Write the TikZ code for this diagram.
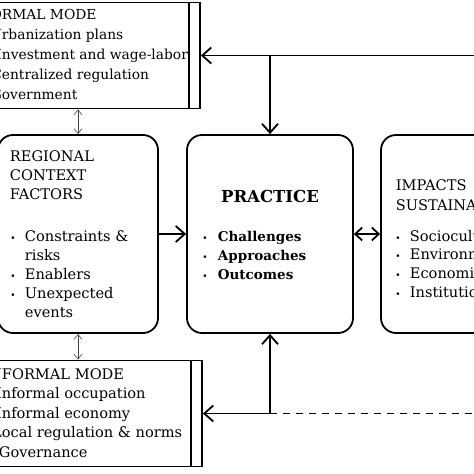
\documentclass[tikz,border=0pt]{standalone}
\usepackage{fontspec}
\setmainfont{DejaVu Serif}
\usetikzlibrary{arrows.meta}

\begin{document}
\begin{tikzpicture}[x=1pt, y=-1pt, line width=1.8pt,
        font=\fontsize{13.8}{16}\selectfont,
        modebox/.style={rectangle, draw, minimum width=#1, minimum height=106pt, inner sep=0pt},
        roundbox/.style={rectangle, draw, rounded corners=15pt, minimum width=#1, minimum height=198pt, inner sep=0pt},
        txt/.style={anchor=base west, inner sep=0pt},
        boxtxt/.style={txt, font=\fontsize{14.6}{16}\selectfont},
        dot/.style={anchor=base, inner sep=0pt, font=\fontsize{9}{9}\selectfont},
        arr/.style={-{Straight Barb[length=9pt,width=16pt]}},
        twoway/.style={{Straight Barb[length=7pt,width=13pt]}-{Straight Barb[length=7pt,width=13pt]}},
        thinway/.style={line width=0.6pt, draw=black!75, {Straight Barb[length=5pt,width=8pt]}-{Straight Barb[length=5pt,width=8pt]}}
    ]
        \useasboundingbox (0,0) rectangle (474,474);
        \clip (0,0) rectangle (474,474);
        \node[modebox=262pt] (formal) at (69,55.5) {};
        \node[modebox=264pt] (informal) at (70,413.5) {};
        \draw ([xshift=-12pt]formal.north east) -- ([xshift=-12pt]formal.south east);
        \draw ([xshift=-12pt]informal.north east) -- ([xshift=-12pt]informal.south east);
        \node[roundbox=160pt] (regional) at (78,234) {};
        \node[roundbox=166pt] (practice) at (270,234) {};
        \node[roundbox=166pt] (impacts) at (464,234) {};

        \foreach \t [count=\i] in {\llap{FO}RMAL MODE, \llap{U}rbanization plans, \llap{I}nvestment and wage-labor, \llap{C}entralized regulation, \llap{G}overnment}
            \node[txt] (fm\i) at (1,{19+20*(\i-1)}) {\t};
        \foreach \t [count=\i] in {\llap{IN}FORMAL MODE, \llap{I}nformal occupation, \llap{I}nformal economy, \llap{L}ocal regulation \& norms, \hspace{-3pt}Governance}
            \node[boxtxt] (im\i) at (1,{379+19.5*(\i-1)}) {\t};

        \foreach \t [count=\i] in {REGIONAL, CONTEXT, FACTORS}
            \node[boxtxt] (rt\i) at (9,{161+19*(\i-1)}) {\t};
        \foreach \t [count=\i] in {Constraints \&, risks, Enablers, Unexpected, events}
            \node[boxtxt] (rl\i) at (24,{241+19*(\i-1)}) {\t};
        \foreach \y [count=\i] in {241, 279, 298}
            \node[dot] (rb\i) at (13,\y) {\textbullet};

        \node[anchor=base, inner sep=0pt, font=\fontsize{16.5}{18}\selectfont\bfseries] (ptitle) at (270,202) {PRACTICE};
        \foreach \t [count=\i] in {Challenges, Approaches, Outcomes}{
            \node[txt, font=\fontsize{13.5}{14}\selectfont\bfseries] (pl\i) at (217,{241+19*(\i-1)}) {\t};
            \node[dot] (pb\i) at (205,{241+19*(\i-1)}) {\textbullet};
        }

        \node[boxtxt] (it1) at (395,190) {IMPACTS};
        \node[boxtxt] (it2) at (395,210) {SUSTAINABILITY};
        \foreach \t [count=\i] in {Sociocultural, Environmental, Economic, Institutional}{
            \node[boxtxt] (il\i) at (409,{241+18.7*(\i-1)}) {\t};
            \node[dot] (ib\i) at (398,{241+18.7*(\i-1)}) {\textbullet};
        }

        \coordinate (topR) at (480,55.5);
        \coordinate (botR) at (480,413.5);
        \coordinate (topJ) at (practice.north |- topR);
        \coordinate (botJ) at (practice.south |- botR);
        \draw[arr] (topR) -- (formal.east);
        \draw[arr] (topJ) -- (practice.north);
        \draw[arr] (regional) -- (practice);
        \draw[twoway] (practice) -- (impacts);
        \draw[arr] (botJ) -- (informal.east);
        \draw[arr] (botJ) -- (practice.south);
        \draw[dash pattern=on 7pt off 6pt] (botJ) -- (botR);
        \draw[thinway] (formal.south -| regional.north) -- (regional.north);
        \draw[thinway] (regional.south) -- (regional.south |- informal.north);
    \end{tikzpicture}
\end{document}
